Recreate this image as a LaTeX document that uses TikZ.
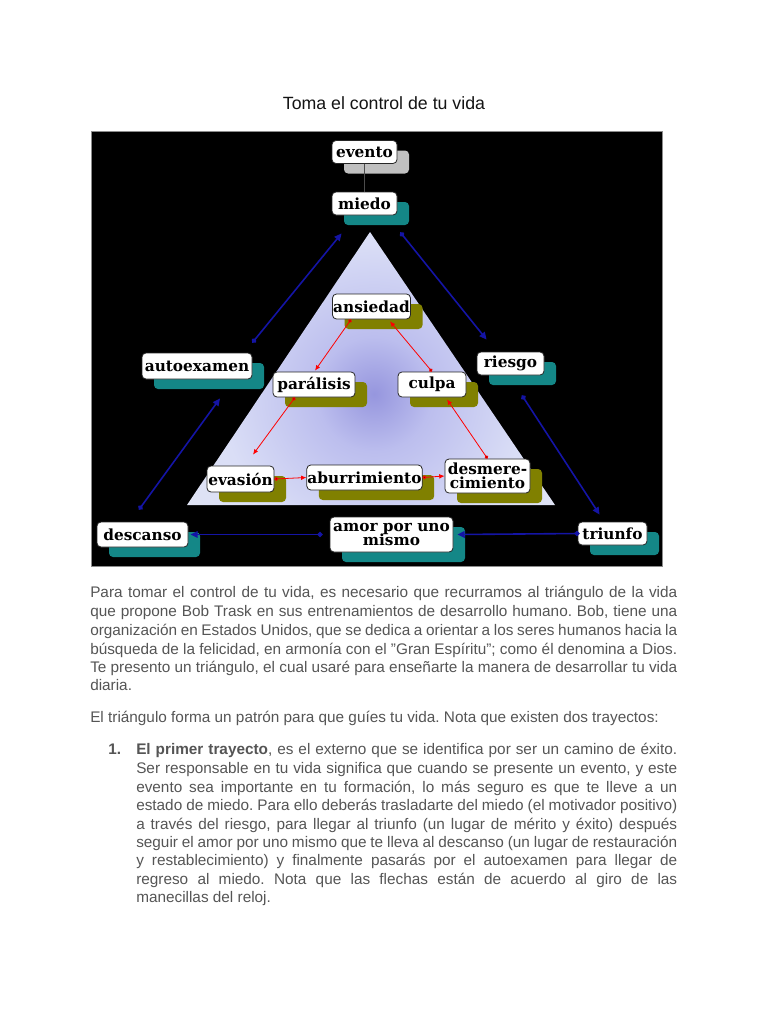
\documentclass[tikz,border=0pt]{standalone}
\usepackage{fontspec}
\setmainfont{Liberation Sans}
\newfontfamily\boxfont{DejaVu Serif}
\usetikzlibrary{shadows,arrows.meta,calc}
\definecolor{shteal}{RGB}{20,135,135}
\definecolor{sholive}{RGB}{128,128,0}
\definecolor{shgray}{RGB}{192,192,192}
\definecolor{bluel}{RGB}{20,20,165}
\definecolor{txt}{RGB}{85,85,85}
\definecolor{tca}{RGB}{150,150,222}
\definecolor{tcb}{RGB}{188,190,238}
\definecolor{tcc}{RGB}{218,222,246}
\definecolor{tcd}{RGB}{230,234,242}
\definecolor{tce}{RGB}{205,216,210}
\pgfdeclareradialshading{trishade}{\pgfpoint{0bp}{0bp}}{color(0bp)=(tca); color(6bp)=(tcb); color(16bp)=(tcc); color(30bp)=(tcd); color(42bp)=(tce); color(50bp)=(tce)}
\begin{document}
\frenchspacing
\begin{tikzpicture}[x=0.75pt,y=-0.75pt,
  box/.style={draw=black!85, fill=white, rounded corners=3pt, line width=0.6pt,
    font=\boxfont\bfseries\fontsize{11.5}{12}\selectfont, inner xsep=0.5pt, inner ysep=1pt, align=center},
  tealbox/.style={box, general shadow={fill=shteal, shadow xshift=9pt, shadow yshift=-7.5pt}},
  olivebox/.style={box, general shadow={fill=sholive, shadow xshift=9pt, shadow yshift=-7.5pt}},
  graybox/.style={box, general shadow={fill=shgray, shadow xshift=9pt, shadow yshift=-7.5pt}},
  bluearrow/.style={bluel, line width=1.2pt, {Circle[length=3.8pt]}-{Triangle[length=5.5pt,width=5pt]}},
  redarrow/.style={red, line width=0.6pt, {Circle[length=2.8pt,fill=red!60!black]}-{Latex[length=4pt,width=3.5pt]}},
  para/.style={anchor=base west, inner sep=0pt, text=txt, font=\fontsize{11.5}{14}\selectfont},
]
\useasboundingbox[fill=white] (0,0) rectangle (768,1024);

% title
\node[font=\fontsize{13.3}{15}\selectfont, text=black!92] (title) at (384,103) {Toma el control de tu vida};

% black panel
\fill[black] (91,131) rectangle (662,566);
\draw[black!45, line width=0.5pt] (91,131) rectangle (662,566);

% triangle
\begin{scope}
\clip (370,232) -- (187,505) -- (555,505) -- cycle;
\shade[shading=trishade] (374,394) circle[radius=180pt];
\end{scope}

% nodes
\node[graybox, minimum width=48.75pt, minimum height=17.25pt] (evento) at (364.5,152) {evento};
\node[tealbox, minimum width=48.75pt, minimum height=17.25pt] (miedo) at (364.5,203.5) {miedo};
\node[olivebox, minimum width=57.75pt, minimum height=18.75pt] (ansiedad) at (371.5,306.5) {ansiedad};
\node[olivebox, minimum width=61.5pt, minimum height=18.75pt] (paralisis) at (314,384.5) {parálisis};
\node[olivebox, minimum width=51pt, minimum height=18.75pt] (culpa) at (432,384.5) {culpa};
\node[tealbox, minimum width=82.5pt, minimum height=19.5pt] (autoexamen) at (197,366) {autoexamen};
\node[tealbox, minimum width=50.25pt, minimum height=17.25pt] (riesgo) at (510.5,363.5) {riesgo};
\node[olivebox, minimum width=50.25pt, minimum height=19.5pt] (evasion) at (240.5,479) {evasión};
\node[olivebox, minimum width=86.25pt, minimum height=18.75pt] (aburrimiento) at (364.5,477.5) {aburrimiento};
\node[olivebox, minimum width=63.75pt, minimum height=25.5pt, inner ysep=0.5pt] (desmere) at (487.5,476) {desmere-\\[-1.5pt]cimiento};
\node[tealbox, minimum width=68.25pt, minimum height=18.75pt] (descanso) at (142.5,534.5) {descanso};
\node[tealbox, minimum width=92.25pt, minimum height=26.25pt, inner ysep=0.5pt] (amor) at (391.5,534.5) {amor por uno\\[-1.5pt]mismo};
\node[tealbox, minimum width=51.75pt, minimum height=17.25pt] (triunfo) at (612.5,533.5) {triunfo};

% evento to miedo
\draw[black!70, line width=0.8pt] (evento.south) -- (miedo.north);

% outer (blue) path
\draw[bluearrow] ($(autoexamen.north east)+(0,-10)$) -- ($(miedo.south west)+(10,18)$);
\draw[bluearrow] ($(miedo.south east)+(3,17)$) -- ($(riesgo.north west)+(10,-12)$);
\draw[bluearrow] ($(riesgo.south)+(11.5,20)$) -- ($(triunfo.north west)+(22,-7)$);
\draw[bluearrow] ($(triunfo.west)+(2,0)$) -- ($(amor.east)+(4,0)$);
\draw[bluearrow] ($(amor.west)+(-7,0)$) -- ($(descanso.east)+(2,0)$);
\draw[bluearrow] ($(descanso.north)+(-3.5,-12)$) -- ($(autoexamen.south)+(23,19)$);

% inner (red) path
\draw[redarrow] ($(ansiedad.south west)+(19,0)$) -- ($(paralisis.north)+(1,-1)$);
\draw[redarrow] ($(paralisis.south)+(-19,0)$) -- ($(evasion.north)+(12.5,-11)$);
\draw[redarrow] (evasion.east) -- (aburrimiento.west);
\draw[redarrow] (aburrimiento.east) -- (desmere.west);
\draw[redarrow] (desmere.north) -- ($(culpa.south)+(15,2)$);
\draw[redarrow] (culpa.north) -- ($(ansiedad.south)+(18.5,2)$);

% paragraph 1
\node[para] (p1a) at (90,597) {\makebox[440.25pt][s]{Para tomar el control de tu vida, es necesario que recurramos al triángulo de la vida}};
\node[para] (p1b) at (90,616) {\makebox[440.25pt][s]{que propone Bob Trask en sus entrenamientos de desarrollo humano. Bob, tiene una}};
\node[para] (p1c) at (90,635) {\makebox[440.25pt][s]{organización en Estados Unidos, que se dedica a orientar a los seres humanos hacia la}};
\node[para] (p1d) at (90,654) {\makebox[440.25pt][s]{búsqueda de la felicidad, en armonía con el "Gran Espíritu"; como él denomina a Dios.}};
\node[para] (p1e) at (90,672) {\makebox[440.25pt][s]{Te presento un triángulo, el cual usaré para enseñarte la manera de desarrollar tu vida}};
\node[para] (p1f) at (90,690) {diaria.};

% paragraph 2
\node[para] (p2) at (90,722) {El triángulo forma un patrón para que guíes tu vida. Nota que existen dos trayectos:};

% list
\node[para] (num1) at (108,754) {\textbf{1.}};
\node[para] (l1) at (136,754) {\makebox[405.75pt][s]{\textbf{El primer trayecto}, es el externo que se identifica por ser un camino de éxito.}};
\node[para] (l2) at (136,773) {\makebox[405.75pt][s]{Ser responsable en tu vida significa que cuando se presente un evento, y este}};
\node[para] (l3) at (136,792) {\makebox[405.75pt][s]{evento sea importante en tu formación, lo más seguro es que te lleve a un}};
\node[para] (l4) at (136,810) {\makebox[405.75pt][s]{estado de miedo. Para ello deberás trasladarte del miedo (el motivador positivo)}};
\node[para] (l5) at (136,829) {\makebox[405.75pt][s]{a través del riesgo, para llegar al triunfo (un lugar de mérito y éxito) después}};
\node[para] (l6) at (136,847) {\makebox[405.75pt][s]{seguir el amor por uno mismo que te lleva al descanso (un lugar de restauración}};
\node[para] (l7) at (136,865) {\makebox[405.75pt][s]{y restablecimiento) y finalmente pasarás por el autoexamen para llegar de}};
\node[para] (l8) at (136,884) {\makebox[405.75pt][s]{regreso al miedo. Nota que las flechas están de acuerdo al giro de las}};
\node[para] (l9) at (136,902) {manecillas del reloj.};
\end{tikzpicture}
\end{document}
